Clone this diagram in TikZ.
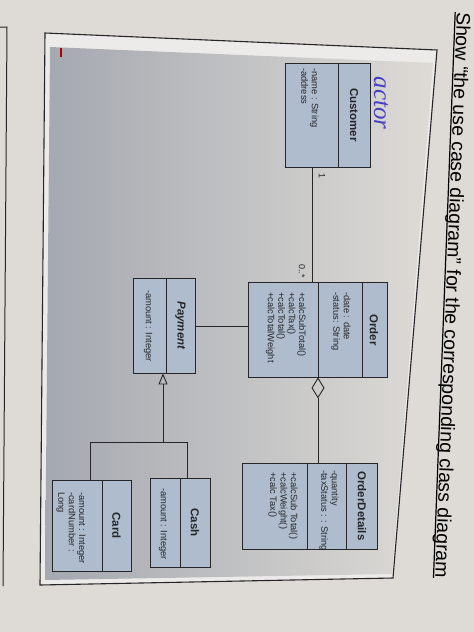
\documentclass[tikz,border=0pt]{standalone}
\usepackage{fontspec}
\setmainfont{Liberation Sans}
\newfontfamily\handfont{Liberation Serif}
\usetikzlibrary{arrows.meta,positioning}

\definecolor{paper}{RGB}{222,219,214}
\definecolor{screen}{RGB}{164,168,176}
\definecolor{classfill}{RGB}{174,188,206}
\definecolor{ink}{RGB}{38,38,40}
\definecolor{pen}{RGB}{72,62,196}

% texte souligne (le trait passe sous la ligne de base)
\newcommand{\ulined}[1]{\setbox0\hbox{#1}\rlap{\rule[-2.4pt]{\wd0}{1.2pt}}\box0}

\tikzset{
  classbox/.style={draw=ink, fill=classfill, line width=0.8pt, inner sep=0pt},
  classname/.style={rotate=-90, inner sep=0pt, text=ink, font=\fontsize{11.5}{13}\selectfont\bfseries},
  classtext/.style={rotate=-90, inner sep=0pt, anchor=west, align=left, text=ink, font=\fontsize{9.3}{10.4}\selectfont},
  mult/.style={rotate=-90, inner sep=0pt, text=ink, font=\fontsize{9}{10}\selectfont},
  assoc/.style={draw=ink, line width=0.9pt},
  titletext/.style={rotate=-92.2, anchor=base west, inner sep=0pt, text=black, font=\fontsize{19.4}{22}\selectfont},
}

\begin{document}
\begin{tikzpicture}[x=1pt,y=-1pt]
\useasboundingbox (0,0) rectangle (474,632);
\clip (0,0) rectangle (474,632);

%%%%%%%%%%%%%%%%%%%%%%%%
% la feuille et les cadres
%%%%%%%%%%%%%%%%%%%%%%%%
\fill[paper] (0,0) rectangle (474,632);
\draw[ink, line width=1pt] (0,27) -- (7,27) -- (3,586);
\fill[paper!55!white] (45,33) -- (437,50) -- (393,578) -- (40,585) -- cycle;
% capture d'ecran (gris a gauche)
\shade[left color=screen, right color=paper] (50,47) -- (433,63) -- (392,574) -- (45,580) -- cycle;
\draw[red!70!black, line width=1.6pt] (61,48) -- (61,57);
\draw[ink, line width=1.1pt] (45,33) -- (437,50) -- (393,578) -- (40,585) -- cycle;

% consigne
\node[titletext] (consigne) at (457,12) {\ulined{Show “the use case diagram” for the corresponding class diagram}};

%%%%%%%%%%%%%%%%%%%%%%%%
% classes (le nom est a droite, le texte se lit vers le bas)
%%%%%%%%%%%%%%%%%%%%%%%%

% Customer
\node[classbox, minimum width=85, minimum height=104] (customer) at (327.5,115) {};
\draw[ink] (customer.north -| 338,0) -- (customer.south -| 338,0);
\node[classname] (customer-name) at (354,115) {Customer};
\node[classtext] (customer-attr) at (310,68) {-name : String\\-address};
\node[rotate=-90, text=pen, font=\handfont\itshape\fontsize{25}{28}\selectfont] (note) at (381,103) {actor};

% Order
\node[classbox, minimum width=139, minimum height=95] (order) at (317.5,329.5) {};
\draw[ink] (order.north -| 362,0) -- (order.south -| 362,0);
\draw[ink] (order.north -| 318,0) -- (order.south -| 318,0);
\node[classname] (order-name) at (374,330) {Order};
\node[classtext] (order-attr) at (341,292) {-date : date\\-status: String};
\node[classtext] (order-op) at (286,292) {+calcSubTotal()\\+calcTax()\\+calcTotal()\\+calcTotalWeight};

% OrderDetails
\node[classbox, minimum width=135, minimum height=86] (details) at (309.5,506) {};
\draw[ink] (details.north -| 346,0) -- (details.south -| 346,0);
\draw[ink] (details.north -| 307,0) -- (details.south -| 307,0);
\node[classname] (details-name) at (362,506) {OrderDetails};
\node[classtext] (details-attr) at (329,470) {-quantity\\-taxStatus : : String};
\node[classtext] (details-op) at (283,472) {+calcSub Total()\\+calcWeight()\\+calc Tax()};

% Payment
\node[classbox, minimum width=62, minimum height=95] (payment) at (164,325.5) {};
\draw[ink] (payment.north -| 166,0) -- (payment.south -| 166,0);
\node[classname, font=\fontsize{11.5}{13}\selectfont\bfseries\itshape] (payment-name) at (180.5,325.5) {Payment};
\node[classtext] (payment-attr) at (148,290) {-amount : Integer};

% Card
\node[classbox, minimum width=79, minimum height=91] (card) at (91.5,525.5) {};
\draw[ink] (card.north -| 102,0) -- (card.south -| 102,0);
\node[classname] (card-name) at (116.5,525.5) {Card};
\node[classtext] (card-attr) at (71,492) {-amount : Integer\\-cardNumber :\\Long};

% Cash
\node[classbox, minimum width=60, minimum height=89] (cash) at (180,522.5) {};
\draw[ink] (cash.north -| 180,0) -- (cash.south -| 180,0);
\node[classname] (cash-name) at (195,522.5) {Cash};
\node[classtext] (cash-attr) at (163,488) {-amount : Integer};

%%%%%%%%%%%%%%%%%%%%%%%%
% liens
%%%%%%%%%%%%%%%%%%%%%%%%
\draw[assoc] (customer.south -| 312,0) -- (order.north -| 312,0);
\node[mult] (m-customer) at (322,176) {1};
\node[mult] (m-order) at (302,271) {0..*};

\draw[assoc, -{Diamond[open, length=21pt, width=13pt]}] (details.north -| 318,0) -- (order.south -| 318,0);

\draw[assoc] (payment.east |- 0,326) -- (order.west |- 0,326);

\coordinate (gen) at (163,442);
\draw[assoc, -{Triangle[open, length=11pt, width=9pt]}] (gen) -- (payment.south -| gen);
\draw[assoc] (card.north -| 90,0) |- (gen);
\draw[assoc] (cash.north -| 187,0) |- (gen);

\end{tikzpicture}
\end{document}
